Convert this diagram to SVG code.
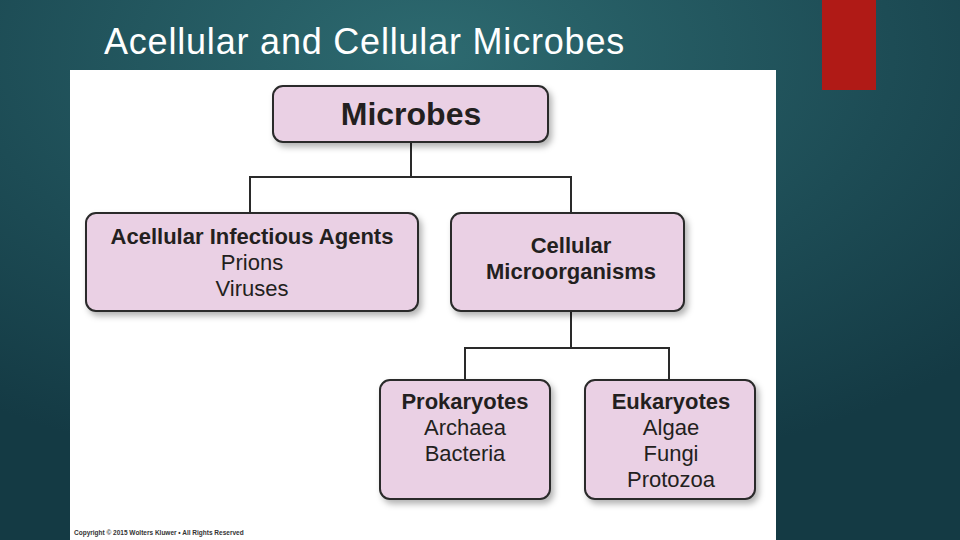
<svg xmlns="http://www.w3.org/2000/svg" width="960" height="540" viewBox="0 0 960 540">
<defs>
<radialGradient id="bg" cx="0.45" cy="0.1" r="0.8">
<stop offset="0" stop-color="#2d6a70"/><stop offset="0.6" stop-color="#1d4c55"/><stop offset="1" stop-color="#143a44"/>
</radialGradient>
<filter id="sh" x="-10%" y="-10%" width="130%" height="140%"><feDropShadow dx="3" dy="4" stdDeviation="3" flood-color="#000" flood-opacity="0.3"/></filter>
</defs>
<style>
.box{fill:#ead0e4;stroke:#2a2a2a;stroke-width:2;filter:url(#sh)}
.t{font-family:"Liberation Sans",Arial,sans-serif;font-size:22px;fill:#231f20;text-anchor:middle}
.b{font-weight:bold}
.big{font-size:32px}
.c{stroke:#2a2a2a;stroke-width:2;fill:none}
</style>
<rect width="960" height="540" fill="url(#bg)"/>
<rect x="822" y="0" width="54" height="90" fill="#b01a16"/>
<text x="104" y="54" font-family="Liberation Sans,Arial,sans-serif" font-size="36" letter-spacing="0.8" fill="#ffffff">Acellular and Cellular Microbes</text>
<rect x="70" y="70" width="706" height="470" fill="#ffffff"/>
<g id="connectors">
<path class="c" d="M411 142V177M250 213V177H571V213M571 311V348M465 380V348H669V380"/>
</g>
<g id="microbes"><rect class="box" x="273" y="86" width="275" height="56" rx="10"/><text class="t b big" x="411" y="125">Microbes</text></g>
<g id="acellular"><rect class="box" x="86" y="213" width="332" height="98" rx="10"/>
<text class="t b" x="252" y="244">Acellular Infectious Agents</text><text class="t" x="252" y="270">Prions</text><text class="t" x="252" y="296">Viruses</text></g>
<g id="cellular"><rect class="box" x="451" y="213" width="233" height="98" rx="10"/>
<text class="t b" x="571" y="253">Cellular</text><text class="t b" x="571" y="279">Microorganisms</text></g>
<g id="prokaryotes"><rect class="box" x="380" y="380" width="170" height="119" rx="10"/>
<text class="t b" x="465" y="409">Prokaryotes</text><text class="t" x="465" y="435">Archaea</text><text class="t" x="465" y="461">Bacteria</text></g>
<g id="eukaryotes"><rect class="box" x="585" y="380" width="170" height="119" rx="10"/>
<text class="t b" x="671" y="409">Eukaryotes</text><text class="t" x="671" y="435">Algae</text><text class="t" x="671" y="461">Fungi</text><text class="t" x="671" y="487">Protozoa</text></g>
<text x="74" y="535" font-family="Liberation Sans,Arial,sans-serif" font-size="6.5" font-weight="bold" fill="#333">Copyright © 2015 Wolters Kluwer • All Rights Reserved</text>
</svg>
